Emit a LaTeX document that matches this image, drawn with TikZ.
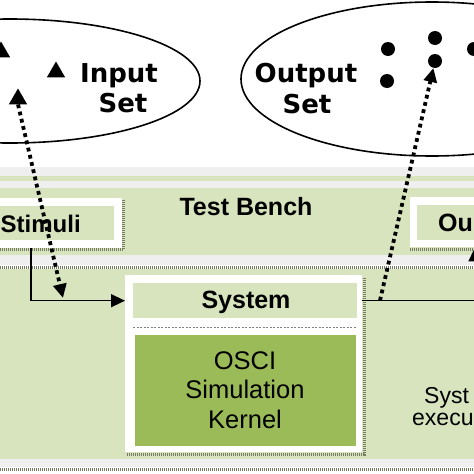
\documentclass[tikz,border=0pt]{standalone}
\usepackage{fontspec}
\setmainfont{Liberation Sans}
\newfontfamily\verd{DejaVu Sans}
\usetikzlibrary{arrows.meta,shapes.geometric}
\definecolor{tbgreen}{HTML}{D7E4BD}
\definecolor{kgreen}{HTML}{9BBB59}
\definecolor{stripgrey}{HTML}{EFEFEF}
\definecolor{hatchc}{HTML}{767C64}
\begin{document}
\begin{tikzpicture}[x=1pt,y=-1pt,
  setlabel/.style={font=\verd\bfseries\fontsize{26}{30}\selectfont, inner sep=0, anchor=base},
  boldlabel/.style={font=\bfseries\fontsize{25}{30}\selectfont, inner sep=0, anchor=base},
  plainlabel/.style={font=\fontsize{25.5}{30}\selectfont, inner sep=0, anchor=base},
  rightlabel/.style={font=\fontsize{23}{27}\selectfont, inner sep=0, anchor=base west},
  elt/.style={regular polygon, regular polygon sides=3, fill=black, inner sep=0, minimum size=21pt},
  setdot/.style={circle, fill=black, inner sep=0, minimum size=14pt},
  setellipse/.style={draw, ellipse, line width=1.6pt, inner sep=0},
  hatch/.style={draw=hatchc, line width=3pt, dash pattern=on 1pt off 1pt},
  whitebox/.style={fill=white, inner sep=0, anchor=north west},
  greenbox/.style={fill=tbgreen, inner sep=0, anchor=north west},
  dotarrow/.style={line width=3.8pt, dash pattern=on 3.8pt off 3.6pt, -{Triangle[length=14pt,width=13pt]}},
  flow/.style={line width=1.5pt, -{Triangle[length=14pt,width=13pt]}},
]
\useasboundingbox (0,0) rectangle (474,474);
\fill[white] (0,0) rectangle (474,474);
\begin{scope}
\clip (0,0) rectangle (474,474);

% ---- sets ----
\node[setellipse, minimum width=380pt, minimum height=124pt] (inset) at (10,81) {};
\node[setellipse, minimum width=382pt, minimum height=154pt] (outset) at (432,79) {};
\node[elt] (t1) at (1,52) {};
\node[elt] (t2) at (56,72) {};
\node[elt] (t3) at (18,99) {};
\node[setlabel] (inl1) at (119,82) {Input};
\node[setlabel] (inl2) at (123,112) {Set};
\node[setlabel] (outl1) at (306,82) {Output};
\node[setlabel] (outl2) at (307,113) {Set};
\node[setdot] (d1) at (388,49) {};
\node[setdot] (d2) at (435,38) {};
\node[setdot] (d3) at (474,49) {};
\node[setdot] (d4) at (387,81) {};
\node[setdot] (d5) at (435,61) {};

% ---- test bench background ----
\fill[stripgrey] (0,167) rectangle (474,188);
\fill[tbgreen] (0,176) rectangle (474,181);
\node[greenbox, minimum width=474pt, minimum height=67pt] (bench) at (0,188) {};
\fill[stripgrey] (0,255) rectangle (474,265);
\draw[hatch] (0,267) -- (474,267);
\node[greenbox, minimum width=474pt, minimum height=190pt] (env) at (0,269) {};
\fill[stripgrey] (0,459) rectangle (474,467);
\draw[hatch] (0,469.5) -- (474,469.5);
\node[boldlabel] (tbl) at (246,215) {Test Bench};

% ---- stimuli box ----
\draw[hatch] (-10,249.5) -- (123.5,249.5) -- (123.5,200);
\node[whitebox, minimum width=132pt, minimum height=50pt] (stim) at (-10,198) {};
\node[greenbox, minimum width=124pt, minimum height=34pt] (stimin) at (-10,206) {};
\node[boldlabel, anchor=base west, font=\bfseries\fontsize{24}{28}\selectfont] (stiml) at (0.5,232) {Stimuli};

% ---- output box ----
\draw[hatch] (410,249.5) -- (480,249.5);
\node[whitebox, minimum width=70pt, minimum height=50pt] (out) at (410,197) {};
\node[greenbox, minimum width=63pt, minimum height=35pt] (outin) at (417,205) {};
\node[boldlabel, anchor=base west] (outbl) at (438,231) {Ou};

% ---- system box ----
\draw[hatch] (127,454) -- (364,454) -- (364,277);
\node[whitebox, minimum width=237pt, minimum height=177pt] (sys) at (125,275) {};
\node[greenbox, minimum width=224pt, minimum height=35pt] (syshead) at (133,283) {};
\draw[gray, line width=0.6pt, dash pattern=on 2pt off 1.5pt] (133,327) -- (357,327);
\node[fill=kgreen, inner sep=0, anchor=north west, minimum width=221pt, minimum height=111pt] (kernel) at (135,335) {};
\node[boldlabel] (sysl) at (246,308) {System};
\node[plainlabel] (k1) at (245,369) {OSCI};
\node[plainlabel] (k2) at (245,398) {Simulation};
\node[plainlabel] (k3) at (245,428) {Kernel};

% ---- right text ----
\node[rightlabel] (r1) at (424,403) {Syst};
\node[rightlabel] (r2) at (412,425) {execu};

% ---- connectors ----
\coordinate (sx) at (31,0);
\coordinate (ox) at (475,0);
\draw[flow] (stim.south -| sx) |- (sys.west |- syshead.west);
\draw[flow] (sys.east |- syshead.east) -| (ox |- out.south);
\coordinate (c1) at (63,298);
\coordinate (c2) at (380,300.5);
\draw[dotarrow] (t3.south) -- (c1);
\draw[dotarrow] (c2) -- (d5);
\end{scope}
\end{tikzpicture}
\end{document}
